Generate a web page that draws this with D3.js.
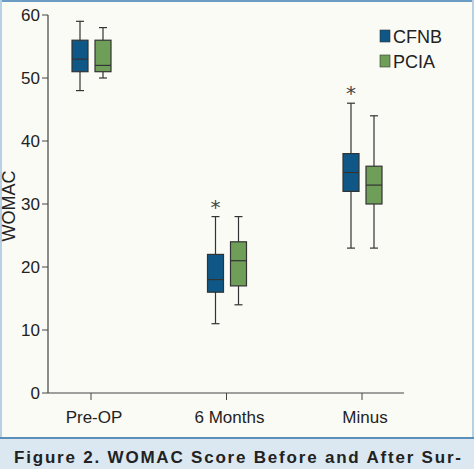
<!DOCTYPE html><html><head><script src="https://cdn.jsdelivr.net/npm/d3@7"></script>
<style>body{margin:0}svg{display:block}</style></head><body><script>
const categories=["Pre-OP","6 Months","Minus"];
const series=["CFNB","PCIA"];
const colors=["#0f5786","#6e9e58"];
// [min,q1,median,q3,max]
const cfnb=[[48,51,53,56,59],[11,16,18,22,28],[23,32,35,38,46]];
const pcia=[[50,51,52,56,58],[14,17,21,24,28],[23,30,33,36,44]];
const starred=[false,true,true];
const yTicks=[0,10,20,30,40,50,60];
const W=474,H=469;
const svg=d3.select("body").append("svg").attr("width",W).attr("height",H);
svg.append("rect").attr("width",W).attr("height",H).attr("fill","#fbfbf6");
svg.append("rect").attr("x",0).attr("y",0).attr("width",W).attr("height",2).attr("fill","#6a9cc4");
svg.append("rect").attr("x",0).attr("y",0).attr("width",2).attr("height",H).attr("fill","#b8d0e4");
svg.append("rect").attr("x",W-2).attr("y",0).attr("width",2).attr("height",H).attr("fill","#b8d0e4");
const y=d3.scaleLinear().domain([0,60]).range([393,15]);
const x=d3.scalePoint().domain(categories).range([91,362]);
const ax=svg.append("g").attr("font-family","Liberation Sans, Arial").attr("fill","#222");
ax.append("line").attr("x1",48).attr("x2",48).attr("y1",y(60)).attr("y2",y(0)).attr("stroke","#444").attr("stroke-width",1.2);
ax.append("line").attr("x1",48).attr("x2",404).attr("y1",y(0)).attr("y2",y(0)).attr("stroke","#444").attr("stroke-width",1.2);
yTicks.forEach(t=>{
 ax.append("line").attr("x1",42).attr("x2",48).attr("y1",y(t)).attr("y2",y(t)).attr("stroke","#444");
 ax.append("text").attr("x",40).attr("y",y(t)+6).attr("text-anchor","end").attr("font-size",17).text(t);
});
categories.forEach(c=>{
 ax.append("line").attr("x1",x(c)).attr("x2",x(c)).attr("y1",y(0)).attr("y2",y(0)+7).attr("stroke","#444");
 ax.append("text").attr("x",x(c)+3).attr("y",423).attr("text-anchor","middle").attr("font-size",17).text(c);
});
ax.append("text").attr("transform","translate(15,206) rotate(-90)").attr("text-anchor","middle").attr("font-size",18).text("WOMAC");
const bw=16;
[cfnb,pcia].forEach((data,si)=>{
 data.forEach((d,i)=>{
  const cx=x(categories[i])+(si===0?-11:12);
  const g=svg.append("g").attr("stroke","#333").attr("stroke-width",1.2);
  g.append("line").attr("x1",cx).attr("x2",cx).attr("y1",y(d[4])).attr("y2",y(d[0]));
  g.append("line").attr("x1",cx-4).attr("x2",cx+4).attr("y1",y(d[4])).attr("y2",y(d[4]));
  g.append("line").attr("x1",cx-4).attr("x2",cx+4).attr("y1",y(d[0])).attr("y2",y(d[0]));
  g.append("rect").attr("x",cx-bw/2).attr("y",y(d[3])).attr("width",bw).attr("height",y(d[1])-y(d[3])).attr("fill",colors[si]);
  g.append("line").attr("x1",cx-bw/2).attr("x2",cx+bw/2).attr("y1",y(d[2])).attr("y2",y(d[2]));
  if(si===0&&starred[i]) svg.append("text").attr("x",cx).attr("y",y(d[4])-3).attr("text-anchor","middle").attr("font-family","DejaVu Sans").attr("font-size",20).attr("fill","#444").text("*");
 });
});
series.forEach((s,i)=>{
 svg.append("rect").attr("x",380).attr("y",30+i*25).attr("width",10).attr("height",12).attr("fill",colors[i]).attr("stroke","#333").attr("stroke-width",0.6);
 svg.append("text").attr("x",393).attr("y",43+i*25).attr("font-family","Liberation Sans, Arial").attr("font-size",18).attr("fill","#222").text(s);
});
svg.append("rect").attr("x",0).attr("y",437).attr("width",W).attr("height",H-437).attr("fill","#dbe8f2");
svg.append("rect").attr("x",0).attr("y",437).attr("width",W).attr("height",2).attr("fill","#5a8fb8");
svg.append("text").attr("x",14).attr("y",463).attr("font-family","Liberation Sans, Arial").attr("font-weight","bold").attr("font-size",17).attr("fill","#222").attr("textLength",447).attr("lengthAdjust","spacing").text("Figure 2. WOMAC Score Before and After Sur-");
</script></body></html>
